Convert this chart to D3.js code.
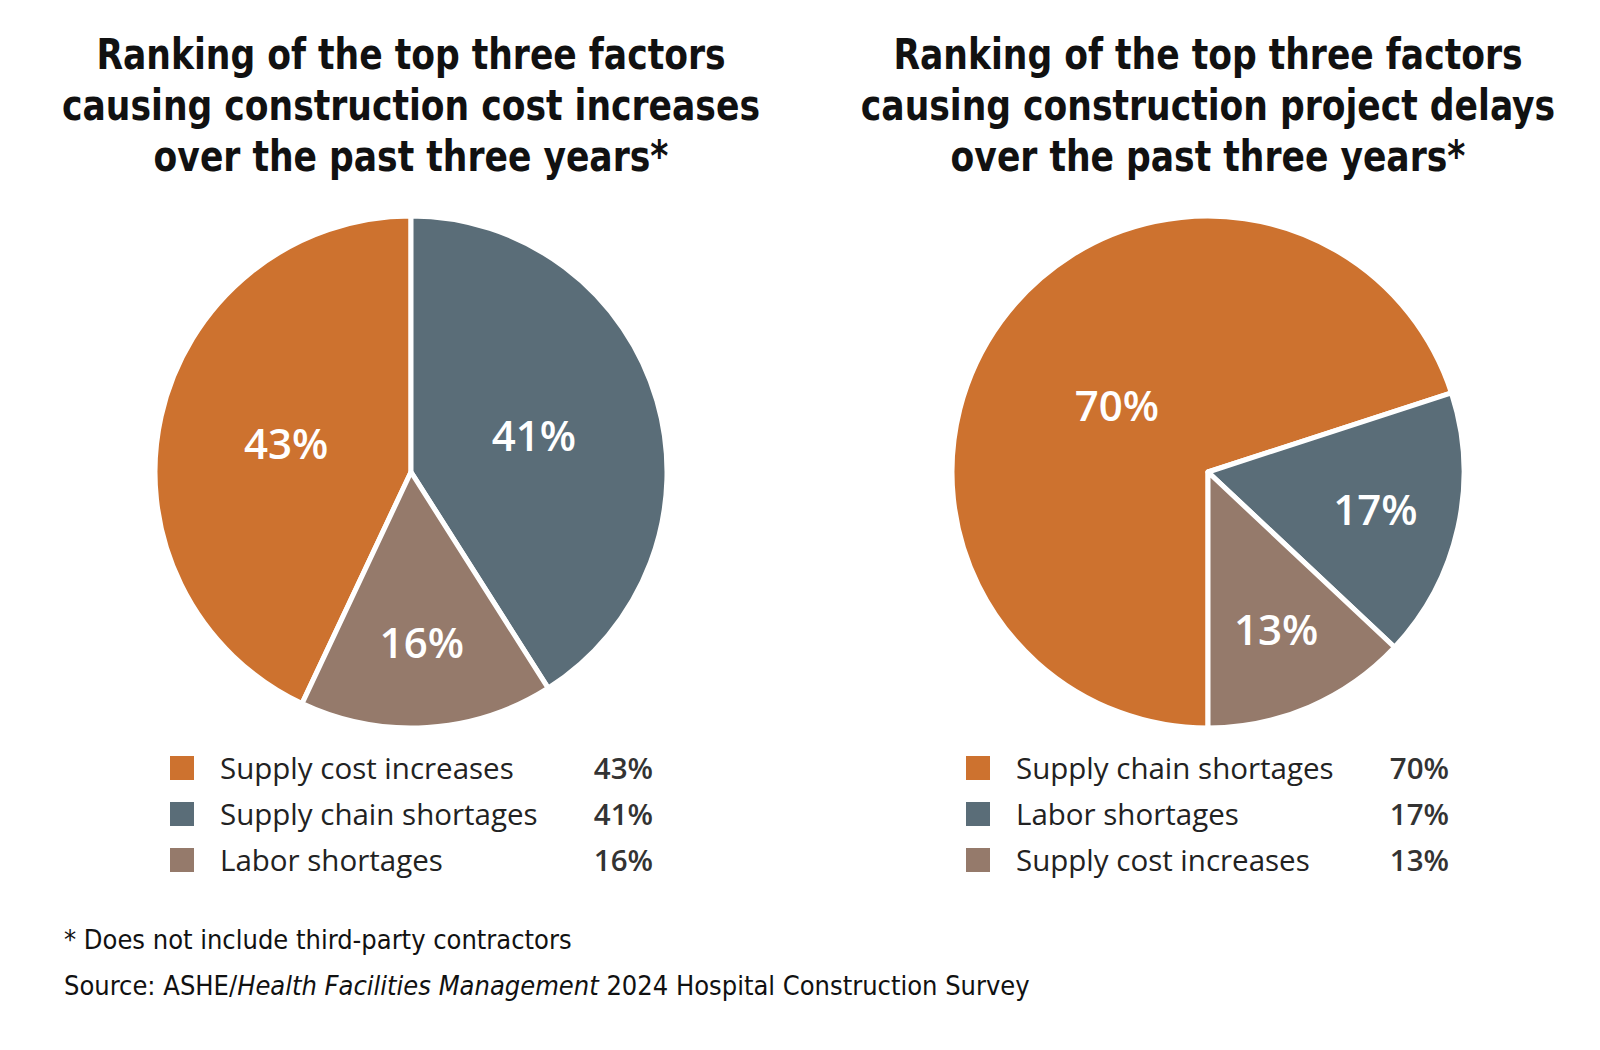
<!DOCTYPE html>
<html>
<head>
<meta charset="utf-8">
<script src="https://cdn.jsdelivr.net/npm/d3@7"></script>
<style>
  html, body { margin: 0; padding: 0; background: #ffffff; }
  svg { display: block; }
</style>
</head>
<body>
<svg id="chart"></svg>
<script>
const costTitle = ['Ranking of the top three factors', 'causing construction cost increases', 'over the past three years*'];
const delayTitle = ['Ranking of the top three factors', 'causing construction project delays', 'over the past three years*'];

const costLabels = ['Supply cost increases', 'Supply chain shortages', 'Labor shortages'];
const costValues = [43, 41, 16];

const delayLabels = ['Supply chain shortages', 'Labor shortages', 'Supply cost increases'];
const delayValues = [70, 17, 13];

const footnotes = ['* Does not include third-party contractors'];

(function () {
  const width = 1600;
  const height = 1050;
  const svg = d3.select('#chart').attr('width', width).attr('height', height);

  const colors = ['#cd722f', '#5a6d78', '#957a6b'];
  const radius = 256;
  const titleFont = '"Liberation Sans Narrow", "DejaVu Sans Condensed", "Roboto", sans-serif';
  const bodyFont = '"Open Sans", Lato, sans-serif';

  const panels = [
    { cx: 411, title: costTitle, labels: costLabels, values: costValues, start: -costValues[0] / 100 * 2 * Math.PI,
      swatchX: 170, valueX: 653 },
    { cx: 1208, title: delayTitle, labels: delayLabels, values: delayValues, start: Math.PI,
      swatchX: 966, valueX: 1449 }
  ];
  const cy = 472;

  function labelRadius(v) {
    if (v > 50) return radius * 0.44;
    if (v > 30) return radius * 0.5;
    return radius * 0.67;
  }

  panels.forEach((p) => {
    const g = svg.append('g');

    // title is set in a condensed face; squeeze it a bit more horizontally
    g.append('g')
      .attr('transform', `translate(${p.cx},0) scale(0.915,1)`)
      .append('text')
      .attr('y', 69)
      .attr('text-anchor', 'middle')
      .attr('font-family', titleFont)
      .attr('font-weight', 700)
      .attr('font-size', 42)
      .attr('fill', '#111')
      .selectAll('tspan')
      .data(p.title)
      .join('tspan')
      .attr('x', 0)
      .attr('dy', (d, i) => (i === 0 ? 0 : 51))
      .text((d) => d);

    const pie = d3.pie().sort(null).startAngle(p.start).endAngle(p.start + 2 * Math.PI);
    const arcs = pie(p.values);
    const arc = d3.arc().innerRadius(0).outerRadius(radius);

    const pieG = g.append('g').attr('transform', `translate(${p.cx},${cy})`);
    pieG.selectAll('path')
      .data(arcs)
      .join('path')
      .attr('d', arc)
      .attr('fill', (d, i) => colors[i])
      .attr('stroke', '#fff')
      .attr('stroke-width', 5)
      .attr('stroke-linejoin', 'round');

    pieG.selectAll('text')
      .data(arcs)
      .join('text')
      .attr('transform', (d) => {
        const r = labelRadius(d.data);
        const c = d3.arc().innerRadius(r).outerRadius(r).centroid(d);
        return `translate(${c[0]},${c[1]})`;
      })
      .attr('text-anchor', 'middle')
      .attr('dy', '0.36em')
      .attr('font-family', bodyFont)
      .attr('font-weight', 600)
      .attr('font-size', 42)
      .attr('fill', '#fff')
      .text((d) => `${d.data}%`);

    const legend = g.append('g');
    const rows = legend.selectAll('g')
      .data(p.labels)
      .join('g')
      .attr('transform', (d, i) => `translate(0,${768 + i * 46})`);

    rows.append('rect')
      .attr('x', p.swatchX)
      .attr('y', -12)
      .attr('width', 24)
      .attr('height', 24)
      .attr('fill', (d, i) => colors[i]);

    rows.append('text')
      .attr('x', p.swatchX + 50)
      .attr('dy', '0.36em')
      .attr('font-family', bodyFont)
      .attr('font-size', 29.5)
      .attr('fill', '#222')
      .text((d) => d);

    rows.append('text')
      .attr('x', p.valueX)
      .attr('dy', '0.36em')
      .attr('text-anchor', 'end')
      .attr('font-family', bodyFont)
      .attr('font-weight', 600)
      .attr('font-size', 29.5)
      .attr('fill', '#333')
      .text((d, i) => `${p.values[i]}%`);
  });

  const foot = svg.append('g')
    .attr('font-family', titleFont)
    .attr('font-size', 27)
    .attr('fill', '#111');

  foot.append('text')
    .attr('x', 64)
    .attr('y', 949)
    .text(footnotes[0]);

  const src = foot.append('text')
    .attr('x', 64)
    .attr('y', 995);
  src.append('tspan').text('Source: ASHE/');
  src.append('tspan').attr('font-style', 'italic').text('Health Facilities Management');
  src.append('tspan').text(' 2024 Hospital Construction Survey');
})();
</script>
</body>
</html>
